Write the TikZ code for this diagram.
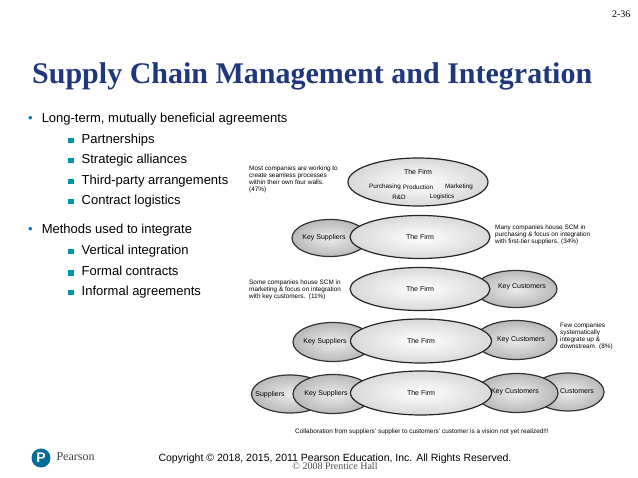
\documentclass[tikz,border=0pt]{standalone}
\usepackage{fontspec}
\setmainfont{Liberation Sans}
\newfontfamily\serif{Liberation Serif}
\usetikzlibrary{shapes.geometric}
\definecolor{titleblue}{RGB}{31,56,125}
\definecolor{bul}{RGB}{0,112,192}
\definecolor{bul2}{RGB}{0,150,170}
\definecolor{pblue}{RGB}{0,108,155}
\tikzset{
 side/.style={ellipse,draw=black!80,line width=1.2pt,inner sep=0pt,inner color=gray!15,outer color=gray!55},
 firm/.style={ellipse,draw=black!85,line width=1.2pt,inner sep=0pt,inner color=white,outer color=gray!30,font=\fontsize{7}{8}\selectfont},
 lab/.style={inner sep=0pt,font=\fontsize{7}{8}\selectfont},
 note/.style={anchor=north west,align=left,font=\fontsize{6.4}{7}\selectfont,inner sep=0pt},
 lvl1/.style={anchor=west,font=\fontsize{13}{15}\selectfont,inner sep=0pt},
 lvl2/.style={anchor=west,font=\fontsize{13}{15}\selectfont,inner sep=0pt},
}
\newcommand{\sqb}{{\color{bul2}\rule{5.5pt}{5.5pt}}\hspace{8pt}}
\begin{document}
\begin{tikzpicture}[x=1pt,y=-1pt]
\useasboundingbox (0,0) rectangle (638,478);
\node[anchor=north east,font=\serif\fontsize{10}{12}\selectfont] (pg) at (634,7) {2-36};
\node[anchor=west,font=\serif\bfseries\fontsize{30}{34}\selectfont,text=titleblue,inner sep=0pt] (title) at (32,76) {Supply Chain Management and Integration};
% bullets
\node[lvl1] (b1) at (28,119) {{\color{bul}\textbullet}\hspace{9pt}Long-term, mutually beneficial agreements};
\node[lvl2] (b11) at (68,140) {\sqb Partnerships};
\node[lvl2] (b12) at (68,160) {\sqb Strategic alliances};
\node[lvl2] (b13) at (68,181) {\sqb Third-party arrangements};
\node[lvl2] (b14) at (68,201) {\sqb Contract logistics};
\node[lvl1] (b2) at (28,230) {{\color{bul}\textbullet}\hspace{9pt}Methods used to integrate};
\node[lvl2] (b21) at (68,251) {\sqb Vertical integration};
\node[lvl2] (b22) at (68,271) {\sqb Formal contracts};
\node[lvl2] (b23) at (68,292) {\sqb Informal agreements};
% row 1
\node[firm,minimum width=140pt,minimum height=48pt] (f1) at (418,182) {};
\node[lab] (f1t) at (418,172) {The Firm};
\node[lab,font=\fontsize{6.3}{7}\selectfont] (p1) at (385,187) {Purchasing};
\node[lab,font=\fontsize{6.3}{7}\selectfont] (p2) at (418,187) {Production};
\node[lab,font=\fontsize{6.3}{7}\selectfont] (p3) at (459,187) {Marketing};
\node[lab,font=\fontsize{6.3}{7}\selectfont] (p4) at (399,197) {R\&D};
\node[lab,font=\fontsize{6.3}{7}\selectfont] (p5) at (442,197) {Logistics};
\node[note] (n1) at (249,166) {Most companies are working to\\create seamless processes\\within their own four walls.\\(47\%)};
% row 2
\node[side,minimum width=76pt,minimum height=37pt] (ks2) at (330,238) {};
\node[firm,minimum width=140pt,minimum height=43pt] (f2) at (420,237) {The Firm};
\node[lab] (ks2t) at (324,238) {Key Suppliers};
\node[note] (n2) at (495,225) {Many companies house SCM in\\purchasing \& focus on integration\\with first-tier suppliers. (34\%)};
% row 3
\node[side,minimum width=82pt,minimum height=37pt] (kc3) at (516,289) {};
\node[firm,minimum width=140pt,minimum height=43pt] (f3) at (420,289) {The Firm};
\node[lab] (kc3t) at (522,287) {Key Customers};
\node[note] (n3) at (249,280) {Some companies house SCM in\\marketing \& focus on integration\\with key customers.\ \ (11\%)};
% row 4
\node[side,minimum width=80pt,minimum height=39pt] (ks4) at (333,342) {};
\node[side,minimum width=82pt,minimum height=39pt] (kc4) at (516,340) {};
\node[firm,minimum width=141pt,minimum height=44pt] (f4) at (421,341) {The Firm};
\node[lab] (ks4t) at (325,342) {Key Suppliers};
\node[lab] (kc4t) at (521,340) {Key Customers};
\node[note] (n4) at (560,323) {Few companies\\systematically\\integrate up \&\\downstream. (8\%)};
% row 5
\node[side,minimum width=77pt,minimum height=38pt] (s5) at (290,394) {};
\node[side,minimum width=72pt,minimum height=38pt] (c5) at (568,392) {};
\node[side,minimum width=80pt,minimum height=39pt] (ks5) at (333,394) {};
\node[side,minimum width=82pt,minimum height=39pt] (kc5) at (517,393) {};
\node[firm,minimum width=141pt,minimum height=44pt] (f5) at (421,393) {The Firm};
\node[lab] (s5t) at (270,395) {Suppliers};
\node[lab] (ks5t) at (326,394) {Key Suppliers};
\node[lab] (kc5t) at (515,392) {Key Customers};
\node[lab] (c5t) at (577,391) {Customers};
\node[font=\fontsize{6.4}{7}\selectfont] (cap) at (422,432) {Collaboration from suppliers' supplier to customers' customer is a vision not yet realized!!!};
% footer
\node[circle,fill=pblue,minimum size=19pt,inner sep=0pt,text=white,font=\bfseries\fontsize{14}{14}\selectfont] (logo) at (41,458) {P};
\node[anchor=west,font=\serif\fontsize{12}{14}\selectfont,text=black!75] (pear) at (53,457) {Pearson};
\node[font=\serif\fontsize{10}{12}\selectfont,text=black!70] (ph) at (335,466) {\textcopyright{} 2008 Prentice Hall};
\node[font=\fontsize{10.5}{12}\selectfont] (copy) at (335,459) {Copyright \textcopyright{} 2018, 2015, 2011 Pearson Education, Inc. All Rights Reserved.};
\end{tikzpicture}
\end{document}
